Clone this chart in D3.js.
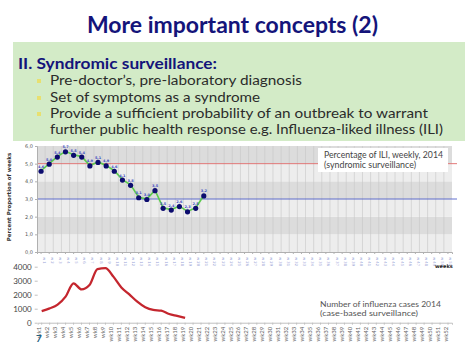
<!DOCTYPE html>
<html>
<head>
<meta charset="utf-8">
<script src="https://cdn.jsdelivr.net/npm/d3@7/dist/d3.min.js"></script>
<style>
  html, body { margin: 0; padding: 0; background: #ffffff; }
  svg { display: block; }
</style>
</head>
<body>
<svg id="chart" width="474" height="355"></svg>
<script>
// ---------- DATA ----------
const titleText = "More important concepts (2)";
const headingText = "II. Syndromic surveillance:";
const bulletLines = [
  "Pre-doctor\u2019s, pre-laboratory diagnosis",
  "Set of symptoms as a syndrome",
  "Provide a sufficient probability of an outbreak to warrant"
];
const continuationLine = "further public health response e.g. Influenza-liked illness (ILI)";

// Top chart: percentage of ILI weekly (weeks 1..21 have data)
const iliWeeks = d3.range(1, 52);           // 51 week columns on the grid
const iliValues = [4.6, 5.0, 5.4, 5.7, 5.5, 5.4, 4.9, 5.1, 4.9, 4.6, 4.1,
                   3.8, 3.1, 3.0, 3.5, 2.5, 2.4, 2.6, 2.3, 2.5, 3.2];
const iliTicks = [0, 1, 2, 3, 4, 5, 6];
const iliUpperThreshold = 5.0;
const iliLowerThreshold = 3.0;
const iliAxisTitle = "Percent Proportion of weeks";
const iliLegend = ["Percentage of ILI, weekly, 2014", "(syndromic surveillance)"];

// Bottom chart: number of influenza cases
const caseWeeks = d3.range(1, 53).map(d => "wk" + d);
const caseValues = [830, 1020, 1290, 1860, 2810, 2380, 2690, 3830, 3900, 3290,
                    2520, 2020, 1500, 1100, 910, 860, 620, 480, 340];
const caseTicks = [0, 1000, 2000, 3000, 4000];
const caseLegend = ["Number of influenza cases 2014", "(case-based surveillance)"];

const pageNumber = "7";

// ---------- DRAW ----------
const svg = d3.select("#chart");
const FONT = "Lato, 'Open Sans', sans-serif";

// Title
svg.append("text")
  .attr("x", 87).attr("y", 33)
  .attr("textLength", 291).attr("lengthAdjust", "spacingAndGlyphs")
  .attr("font-family", FONT).attr("font-weight", 700).attr("font-size", 22)
  .attr("fill", "#14147a").text(titleText);

// Green box
svg.append("rect")
  .attr("x", 13).attr("y", 42).attr("width", 452).attr("height", 99)
  .attr("fill", "#d3ebc7");

svg.append("text")
  .attr("x", 18).attr("y", 69)
  .attr("textLength", 199).attr("lengthAdjust", "spacingAndGlyphs")
  .attr("font-family", FONT).attr("font-weight", 700).attr("font-size", 15)
  .attr("fill", "#14147a").text(headingText);

const bulletBase = [85, 102, 118];
const bulletEnds = [302, 260, 428];
bulletLines.forEach((t, i) => {
  svg.append("rect")
    .attr("x", 37).attr("y", bulletBase[i] - 6).attr("width", 4).attr("height", 4)
    .attr("fill", "#e8e070");
  svg.append("text")
    .attr("x", 50).attr("y", bulletBase[i])
    .attr("textLength", bulletEnds[i] - 50).attr("lengthAdjust", "spacingAndGlyphs")
    .attr("font-family", FONT).attr("font-size", 13.5)
    .attr("fill", "#2b2b2b").text(t);
});
svg.append("text")
  .attr("x", 50).attr("y", 134)
  .attr("textLength", 393).attr("lengthAdjust", "spacingAndGlyphs")
  .attr("font-family", FONT).attr("font-size", 13.5)
  .attr("fill", "#2b2b2b").text(continuationLine);

// ---------- Top chart ----------
const x1 = d3.scaleBand().domain(iliWeeks).range([37, 452]);
const y1 = d3.scaleLinear().domain([0, 6]).range([252, 146]);
const g1 = svg.append("g");

// alternating bands
d3.range(0, 6).forEach(i => {
  g1.append("rect")
    .attr("x", 37).attr("y", y1(i + 1))
    .attr("width", 415).attr("height", y1(i) - y1(i + 1))
    .attr("fill", i % 2 === 0 ? "#ededed" : "#dcdcdc");
});
// vertical week lines
g1.selectAll("line.vgrid").data(iliWeeks.slice(1)).join("line")
  .attr("class", "vgrid")
  .attr("x1", d => x1(d)).attr("x2", d => x1(d))
  .attr("y1", 146).attr("y2", 252)
  .attr("stroke", "#c6c6c6").attr("stroke-width", 0.6);

// thresholds
g1.append("line")
  .attr("x1", 37).attr("x2", 457)
  .attr("y1", y1(iliUpperThreshold)).attr("y2", y1(iliUpperThreshold))
  .attr("stroke", "#e06a6a").attr("stroke-width", 0.9);
g1.append("line")
  .attr("x1", 37).attr("x2", 457)
  .attr("y1", y1(iliLowerThreshold)).attr("y2", y1(iliLowerThreshold))
  .attr("stroke", "#5060c8").attr("stroke-width", 0.9);

// y axis
const yAxis1 = d3.axisLeft(y1).tickValues(iliTicks).tickSize(2)
  .tickFormat(d => d3.format(".1f")(d).replace(".", ","));
const ya1 = g1.append("g").attr("transform", "translate(37,0)").call(yAxis1);
ya1.select(".domain").attr("stroke", "#b0b0b0");
ya1.selectAll(".tick line").attr("stroke", "#b0b0b0");
ya1.selectAll(".tick text").attr("font-family", "'DejaVu Sans', sans-serif")
  .attr("font-size", 5).attr("fill", "#555").attr("x", -4);

// x axis (ticks)
const xAxis1 = d3.axisBottom(x1).tickSize(2).tickFormat("");
const xa1 = g1.append("g").attr("transform", "translate(0,252)").call(xAxis1);
xa1.select(".domain").attr("stroke", "#b0b0b0");
xa1.selectAll(".tick line").attr("stroke", "#b0b0b0");

// tiny week labels
g1.selectAll("text.wk").data(iliWeeks).join("text")
  .attr("class", "wk")
  .attr("transform", d => `translate(${x1(d) + x1.bandwidth() / 2 + 1.5},257) rotate(90)`)
  .attr("font-family", "'DejaVu Sans', sans-serif").attr("font-size", 3.8)
  .attr("fill", "#9aa3d6").text(d => "w  " + d);

g1.append("text").attr("x", 435).attr("y", 268)
  .attr("font-family", "'DejaVu Sans', sans-serif").attr("font-weight", 700)
  .attr("font-size", 5).attr("fill", "#222").text("weeks");

// y axis title
g1.append("text")
  .attr("transform", "translate(11,197) rotate(-90)")
  .attr("text-anchor", "middle")
  .attr("font-family", "'DejaVu Sans', sans-serif").attr("font-weight", 700)
  .attr("font-size", 5.5).attr("fill", "#333").text(iliAxisTitle);

// line
const iliData = iliValues.map((v, i) => ({ w: iliWeeks[i], v }));
const line1 = d3.line().x(d => x1(d.w) + x1.bandwidth() / 2).y(d => y1(d.v));
g1.append("path").datum(iliData)
  .attr("d", line1).attr("fill", "none")
  .attr("stroke", "#5ccc4c").attr("stroke-width", 1.6);
g1.selectAll("circle.pt").data(iliData).join("circle")
  .attr("class", "pt")
  .attr("cx", d => x1(d.w) + x1.bandwidth() / 2).attr("cy", d => y1(d.v) + 0.5)
  .attr("r", 2.6).attr("fill", "#0c0c6e");
g1.selectAll("text.pl").data(iliData).join("text")
  .attr("class", "pl")
  .attr("x", d => x1(d.w) + x1.bandwidth() / 2).attr("y", d => y1(d.v) - 3)
  .attr("text-anchor", "middle")
  .attr("font-family", "'DejaVu Sans', sans-serif").attr("font-size", 3.5)
  .attr("font-weight", 700).attr("fill", "#3a48c0")
  .text(d => d3.format(".1f")(d.v).replace(".", ","));

// legend box
g1.append("rect").attr("x", 318).attr("y", 148).attr("width", 130).attr("height", 24)
  .attr("fill", "#ffffff");
g1.append("text").attr("x", 324).attr("y", 158)
  .attr("textLength", 119).attr("lengthAdjust", "spacingAndGlyphs")
  .attr("font-family", FONT).attr("font-size", 8.5).attr("fill", "#444").text(iliLegend[0]);
g1.append("text").attr("x", 324).attr("y", 167.5)
  .attr("textLength", 92).attr("lengthAdjust", "spacingAndGlyphs")
  .attr("font-family", FONT).attr("font-size", 8.5).attr("fill", "#444").text(iliLegend[1]);

// ---------- Bottom chart ----------
const x2 = d3.scaleBand().domain(caseWeeks).range([37.7, 452]);
const y2 = d3.scaleLinear().domain([0, 4000]).range([322.7, 266.7]);
const g2 = svg.append("g");

const xAxis2 = d3.axisBottom(x2).tickSize(2);
const xa2 = g2.append("g").attr("transform", "translate(0,322.7)").call(xAxis2);
xa2.select(".domain").attr("stroke", "#c0c0c0");
xa2.selectAll(".tick line").attr("stroke", "#c0c0c0");
xa2.selectAll(".tick text")
  .attr("transform", "rotate(-90)")
  .attr("text-anchor", "end").attr("x", -4).attr("y", -2.5).attr("dy", "0.35em")
  .attr("font-family", FONT).attr("font-size", 6).attr("fill", "#666");

const yAxis2 = d3.axisLeft(y2).tickValues(caseTicks).tickSize(3).tickFormat(d3.format("d"));
const ya2 = g2.append("g").attr("transform", "translate(37.7,0)").call(yAxis2);
ya2.select(".domain").remove();
ya2.selectAll(".tick line").attr("stroke", "#c0c0c0");
ya2.selectAll(".tick text").attr("font-family", FONT)
  .attr("font-size", 8).attr("fill", "#444").attr("x", -6);

const caseData = caseValues.map((v, i) => ({ w: caseWeeks[i], v }));
const line2 = d3.line().x(d => x2(d.w) + x2.bandwidth() / 2).y(d => y2(d.v))
  .curve(d3.curveMonotoneX);
g2.append("path").datum(caseData).attr("d", line2)
  .attr("fill", "none").attr("stroke", "#c4262e").attr("stroke-width", 2.3)
  .attr("stroke-linejoin", "round");

g2.append("text").attr("x", 320).attr("y", 306.5)
  .attr("textLength", 121).attr("lengthAdjust", "spacingAndGlyphs")
  .attr("font-family", FONT).attr("font-size", 7.5).attr("fill", "#555").text(caseLegend[0]);
g2.append("text").attr("x", 320).attr("y", 315.5)
  .attr("textLength", 98).attr("lengthAdjust", "spacingAndGlyphs")
  .attr("font-family", FONT).attr("font-size", 7.5).attr("fill", "#555").text(caseLegend[1]);

// page number
svg.append("text").attr("x", 36).attr("y", 342)
  .attr("font-family", FONT).attr("font-weight", 700).attr("font-size", 10)
  .attr("fill", "#1f6080").text(pageNumber);
</script>
</body>
</html>
